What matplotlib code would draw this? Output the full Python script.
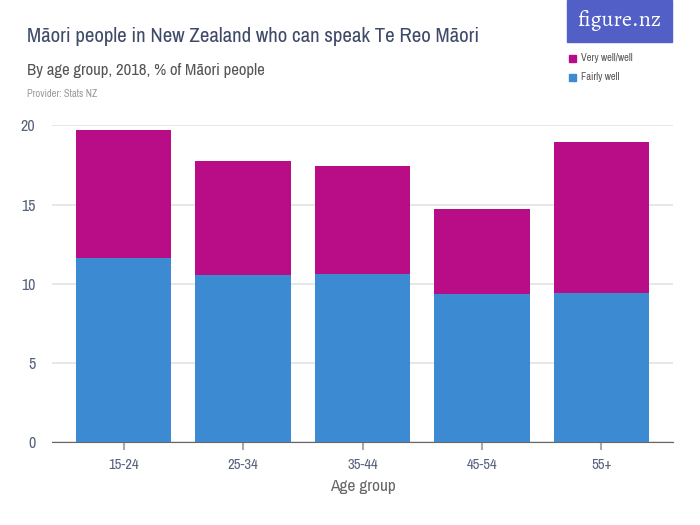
import numpy as np
import matplotlib.pyplot as plt
from matplotlib.patches import Rectangle

age_groups = ['15-24', '25-34', '35-44', '45-54', '55+']
fairly_well = [11.63, 10.56, 10.64, 9.36, 9.42]
very_well = [8.09, 7.17, 6.77, 5.36, 9.51]

blue = '#3b8ad2'
magenta = '#b90c87'
navy = '#3e4a68'

plt.rcParams['font.family'] = ['Archivo Narrow', 'DejaVu Sans']

fig = plt.figure(figsize=(7, 5.25), dpi=100)
ax = fig.add_axes([52 / 700, 1 - 442.3 / 525, 621 / 700, 317 / 525])

x = np.arange(len(age_groups))
ax.bar(x, fairly_well, width=0.8, color=blue, zorder=3)
ax.bar(x, very_well, width=0.8, bottom=fairly_well, color=magenta, zorder=3)

ax.set_xlim(-0.6, 4.6)
ax.set_ylim(0, 20)
ax.set_yticks([0, 5, 10, 15, 20])
ax.set_xticks(x)
ax.set_xticklabels(age_groups)
ax.grid(axis='y', color='#e3e3e3', linewidth=1.2, zorder=0)
for s in ['top', 'right', 'left']:
    ax.spines[s].set_visible(False)
ax.spines['bottom'].set_color('#666666')
ax.tick_params(axis='y', length=0, labelsize=11.5, labelcolor='#56627a', pad=12)
ax.tick_params(axis='x', length=6, width=1.5, color='#aaaaaa', labelsize=10.5,
               labelcolor='#56627a', pad=5)
ax.set_xlabel('Age group', fontsize=12.5, color='#666666', labelpad=5)

# header
fig.text(27 / 700, 1 - 37 / 525, 'Māori people in New Zealand who can speak Te Reo Māori',
         fontsize=15, color=navy, va='center')
fig.text(27 / 700, 1 - 70 / 525, 'By age group, 2018, % of Māori people',
         fontsize=12, color='#555555', va='center')
fig.text(27 / 700, 1 - 94 / 525, 'Provider: Stats NZ',
         fontsize=7.5, color='#999999', va='center')

# logo
fig.patches.append(Rectangle((567 / 700, 1 - 42 / 525), 105 / 700, 42 / 525,
                             transform=fig.transFigure, color='#525fc7'))
fig.text(619 / 700, 1 - 20 / 525, 'figure.nz', fontsize=16, color='white',
         family=['Alegreya', 'DejaVu Serif'], weight='bold', ha='center', va='center')

# legend
for yy, lab, col in [(58, 'Very well/well', magenta), (77, 'Fairly well', blue)]:
    fig.patches.append(Rectangle((569 / 700, 1 - (yy + 3.5) / 525), 7 / 700, 7 / 525,
                                 transform=fig.transFigure, color=col))
    fig.text(581 / 700, 1 - yy / 525, lab, fontsize=7.5, color='#555555', va='center')

fig.savefig('out.png', dpi=100)
